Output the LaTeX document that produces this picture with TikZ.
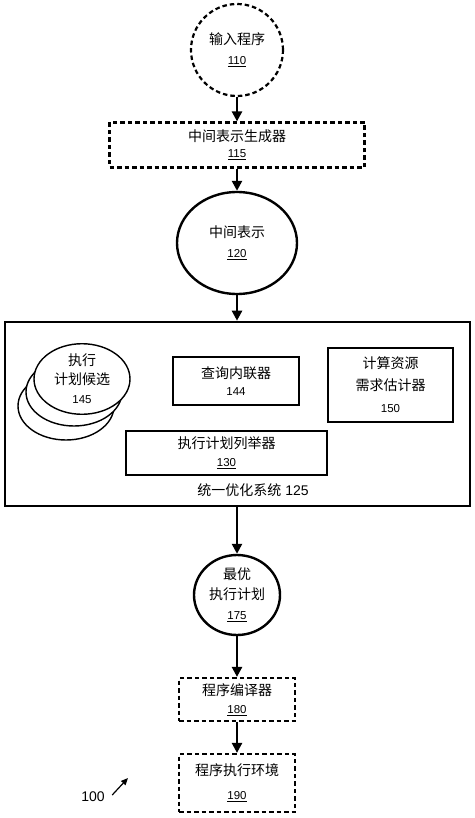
\documentclass[tikz,border=0pt]{standalone}
\usepackage{fontspec}
\setmainfont{Liberation Sans}
\newfontfamily\cjk{Noto Sans CJK SC}
\usetikzlibrary{shapes.geometric,arrows.meta}
\newcommand{\zh}[1]{{\cjk #1}}
\newcommand{\refno}[1]{{\fontsize{11.5pt}{13pt}\selectfont #1}}
\begin{document}
\begin{tikzpicture}[x=1pt,y=-1pt,
    font=\fontsize{14pt}{20pt}\selectfont,
    flow/.style={line width=2.4pt,-{Triangle[length=10pt,width=10pt]}},
    dashbox/.style={draw,rectangle,dash pattern=on 4.5pt off 3pt,line width=2.2pt,align=center,inner sep=0pt},
    solidbox/.style={draw,rectangle,line width=1.4pt,align=center,inner sep=0pt},
    oval/.style={draw,ellipse,line width=2.4pt,align=center,inner sep=0pt}]
    \useasboundingbox (0,0) rectangle (474,818);
    \node[dashbox,circle,minimum size=92pt] (prog) at (237,50) {\zh{输入程序}\\\refno{\underline{110}}};
    \node[dashbox,minimum width=255pt,minimum height=45pt] (gen) at (237,145) {\zh{中间表示生成器}\\[-4pt]\refno{\underline{115}}};
    \node[oval,minimum width=120pt,minimum height=102pt] (ir) at (237,243) {\zh{中间表示}\\\refno{\underline{120}}};
    % unified optimisation system
    \node[draw,rectangle,line width=2.6pt,minimum width=465pt,minimum height=184pt] (opt) at (237.5,414) {};
    \draw[line width=1.4pt] (66,406) ellipse[x radius=48,y radius=34];
    \draw[line width=1.4pt,fill=white] (74,392) ellipse[x radius=48,y radius=34];
    \node[draw,ellipse,line width=1.4pt,fill=white,minimum width=96pt,minimum height=68pt,align=center,inner sep=0pt,
          font=\fontsize{14pt}{19pt}\selectfont] (cand) at (82,379) {\zh{执行}\\\zh{计划候选}\\\refno{145}};
    \node[solidbox,minimum width=126pt,minimum height=48pt] (inl) at (236,381) {\zh{查询内联器}\\[-3pt]\refno{144}};
    \node[solidbox,minimum width=125pt,minimum height=74pt,font=\fontsize{14pt}{22pt}\selectfont] (est) at (390.5,385) {\zh{计算资源}\\\zh{需求估计器}\\\refno{150}};
    \node[solidbox,minimum width=201pt,minimum height=44pt] (enum) at (226.5,453) {\zh{执行计划列举器}\\[-2pt]\refno{\underline{130}}};
    \node (optlbl) at (253,490) {\zh{统一优化系统}\ 125};
    % plan and back end
    \node[oval,minimum width=86pt,minimum height=80pt,font=\fontsize{14pt}{20pt}\selectfont] (best) at (237,595) {\zh{最优}\\\zh{执行计划}\\\refno{\underline{175}}};
    \node[dashbox,minimum width=116pt,minimum height=43pt] (comp) at (237,699.5) {\zh{程序编译器}\\[-2pt]\refno{\underline{180}}};
    \node[dashbox,minimum width=116pt,minimum height=58pt] (env) at (237,783) {\zh{程序执行环境}\\[4pt]\refno{\underline{190}}};
    \node (fig) at (93,797) {100};
    \coordinate (figtip) at (128,778);
    \draw[flow] (prog) -- (gen);
    \draw[flow] (gen) -- (ir);
    \draw[flow] (ir) -- (opt.north -| ir.south);
    \draw[flow] (opt.south -| best.north) -- (best);
    \draw[flow] (best) -- (comp);
    \draw[flow] (comp) -- (env);
    \draw[line width=1.2pt,-{Triangle[length=7pt,width=6pt]}] (fig.east) ++(4,-2) -- (figtip);
\end{tikzpicture}
\end{document}
